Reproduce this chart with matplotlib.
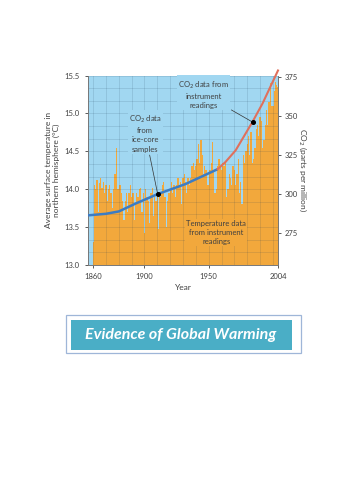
import matplotlib
matplotlib.use('Agg')
import matplotlib.pyplot as plt
from matplotlib.patches import Rectangle
from matplotlib.ticker import MultipleLocator, FormatStrFormatter
import numpy as np

plt.rcParams['font.family'] = ['Lato', 'DejaVu Sans']

# yearly northern hemisphere temperature (deg C), 1860-2004
temp_years = np.arange(1860, 2005)
temps = np.array([
    13.30, 14.05, 14.00, 14.12, 13.70, 14.08, 14.15, 14.02, 14.10, 13.95,  # 1860s
    14.05, 13.85, 14.00, 14.05, 13.95, 13.75, 14.00, 14.20, 14.55, 14.00,  # 1870s
    14.00, 14.05, 13.95, 13.85, 13.60, 13.85, 13.95, 13.70, 13.95, 14.05,  # 1880s
    13.90, 13.95, 13.60, 13.80, 13.95, 13.90, 14.00, 14.02, 13.70, 13.95,  # 1890s
    13.42, 14.00, 13.90, 13.85, 13.55, 13.95, 14.02, 13.65, 13.90, 13.85,  # 1900s
    13.95, 13.48, 13.90, 13.95, 14.05, 14.10, 13.90, 13.50, 13.85, 13.95,  # 1910s
    14.00, 14.10, 13.95, 14.05, 13.90, 14.05, 14.15, 14.05, 14.10, 13.80,  # 1920s
    14.15, 14.20, 14.10, 13.95, 14.15, 14.05, 14.15, 14.30, 14.35, 14.25,  # 1930s
    14.30, 14.40, 14.60, 14.35, 14.65, 14.45, 14.20, 14.30, 14.25, 14.05,  # 1940s
    14.05, 14.25, 14.35, 14.62, 14.25, 13.95, 14.00, 14.30, 14.40, 14.30,  # 1950s
    14.25, 14.35, 14.30, 14.35, 13.90, 14.00, 14.20, 14.15, 14.05, 14.30,  # 1960s
    14.25, 14.05, 14.20, 14.40, 13.95, 14.10, 13.80, 14.45, 14.35, 14.50,  # 1970s
    14.60, 14.70, 14.45, 14.75, 14.35, 14.40, 14.55, 14.80, 14.85, 14.70,  # 1980s
    14.95, 14.90, 14.55, 14.65, 14.85, 15.05, 14.85, 15.15, 15.40, 15.10,  # 1990s
    15.10, 15.30, 15.42, 15.38, 15.35,                                     # 2000-2004
])

# CO2 (ppm): ice-core part and instrument part
ice_years = [1856, 1870, 1880, 1893, 1910, 1932, 1957]
ice_ppm = [286.5, 287.5, 289, 294, 300, 306.5, 316]
inst_years = [1957, 1963, 1971, 1984, 1992, 2004]
inst_ppm = [316, 320.5, 328, 346, 358, 379]

temp_ticks = [13.0, 13.5, 14.0, 14.5, 15.0, 15.5]
co2_ticks = [275, 300, 325, 350, 375]
year_ticks = [1860, 1900, 1950, 2004]

sky = '#a1d7f1'
orange = '#f2a83c'
txt = '#404040'

fig = plt.figure(figsize=(3.54, 5.0), dpi=100)
ax = fig.add_axes([0.2486, 0.47, 0.5367, 0.379])
ax.set_facecolor(sky)

ax.fill_between(temp_years, 13.0, temps, step='mid', color=orange, lw=0, zorder=1)

ax.set_xlim(1856, 2004)
ax.set_ylim(13.0, 15.5)
ax.set_xticks(year_ticks)
ax.set_yticks(temp_ticks)
ax.yaxis.set_major_formatter(FormatStrFormatter('%.1f'))
ax.xaxis.set_minor_locator(MultipleLocator(10))
ax.yaxis.set_minor_locator(MultipleLocator(0.5 / 3))
ax.set_axisbelow('line')
ax.grid(which='both', color='#1b3a55', alpha=0.15, lw=0.6)
ax.tick_params(which='minor', length=0)
ax.tick_params(which='major', labelsize=5.5, colors=txt, length=2.5, width=0.6)
for s in ['left', 'bottom', 'right']:
    ax.spines[s].set_color('#777777')
    ax.spines[s].set_linewidth(0.7)
ax.spines['top'].set_visible(False)

ax.set_xlabel('Year', fontsize=6, color=txt, labelpad=3)
ax.set_ylabel('Average surface temperature in\nnorthern hemisphere (°C)',
              fontsize=6, color=txt, labelpad=3)

ax2 = ax.twinx()
ax2.set_ylim(254.8, 375.8)
ax2.set_yticks(co2_ticks)
ax2.tick_params(labelsize=5.5, colors=txt, length=2.5, width=0.6, pad=2)
ax2.spines['right'].set_color('#777777')
ax2.spines['right'].set_linewidth(0.7)
for s in ['left', 'bottom', 'top']:
    ax2.spines[s].set_visible(False)
ax2.set_ylabel('CO$_2$ (parts per million)', fontsize=6, color=txt,
               rotation=270, labelpad=8)

ax2.plot(ice_years, ice_ppm, color='#3b7cc4', lw=1.8, solid_capstyle='butt', zorder=3)
ax2.plot(inst_years, inst_ppm, color='#e0705c', lw=1.5, clip_on=False, zorder=3)

# annotations
ax2.annotate('CO$_2$ data\nfrom\nice-core\nsamples', xy=(1910.3, 300),
             xytext=(1900.5, 339), ha='center', va='center', fontsize=5.5,
             color=txt, linespacing=1.35,
             bbox=dict(boxstyle='square,pad=0.15', fc=sky, ec='none'),
             arrowprops=dict(arrowstyle='-', color='#333333', lw=0.5,
                             shrinkA=1, shrinkB=0))
ax2.annotate('CO$_2$ data from\ninstrument\nreadings', xy=(1984.3, 346),
             xytext=(1946, 364), ha='center', va='center', fontsize=5.5,
             color=txt, linespacing=1.35,
             bbox=dict(boxstyle='square,pad=0.15', fc=sky, ec='none'),
             arrowprops=dict(arrowstyle='-', color='#333333', lw=0.5,
                             shrinkA=1, shrinkB=0))
ax2.plot([1910.3, 1984.3], [300, 346], 'o', color='black', ms=2.6, zorder=4)
ax2.text(1956, 275.5, 'Temperature data\nfrom instrument\nreadings', ha='center',
         va='center', fontsize=5.5, color=txt, linespacing=1.35,
         bbox=dict(boxstyle='square,pad=0.15', fc=orange, ec='none'))

# title box underneath
fig.patches.append(Rectangle((66 / 354, 1 - 353 / 500), (301 - 66) / 354, 38 / 500,
                             transform=fig.transFigure, fc='white', ec='#9fb6d8', lw=0.9))
fig.patches.append(Rectangle((71 / 354, 1 - 349.5 / 500), (292 - 71) / 354, 29.5 / 500,
                             transform=fig.transFigure, fc='#4aaec6', ec='none'))
fig.text(181 / 354, 1 - 334.5 / 500, 'Evidence of Global Warming', ha='center',
         va='center', fontsize=11.5, color='white', style='italic', weight='bold',
         family=['Lato', 'DejaVu Sans'])

fig.savefig('out.png', dpi=100, facecolor='white')
